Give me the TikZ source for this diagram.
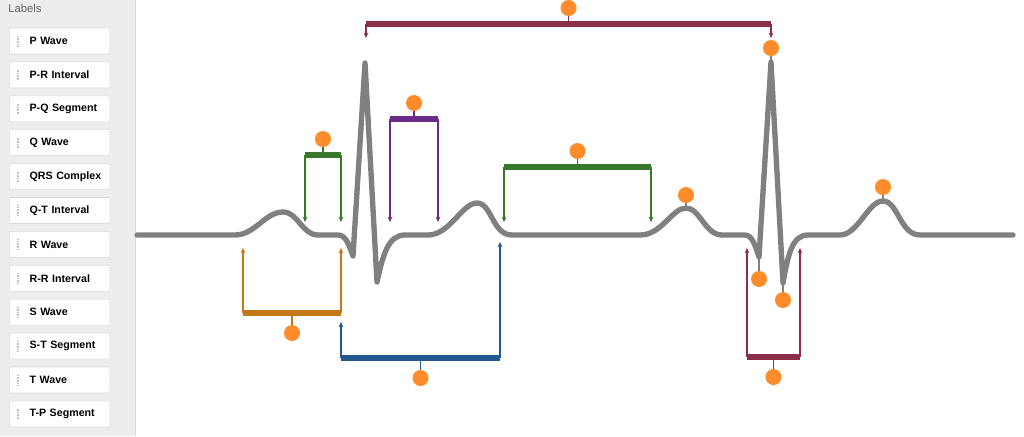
\documentclass[tikz,border=0pt]{standalone}
\usepackage{fontspec}
\setmainfont{Liberation Sans}
\usetikzlibrary{arrows.meta}
\definecolor{ecg}{HTML}{808080}
\definecolor{cgreen}{HTML}{38782A}
\definecolor{cpurple}{HTML}{6A2C8A}
\definecolor{cmaroon}{HTML}{8A2E4A}
\definecolor{corange}{HTML}{C47716}
\definecolor{cblue}{HTML}{23598E}
\definecolor{cdot}{HTML}{FF8C2A}
\tikzset{
  px/.style={x=0.75pt,y=-0.75pt},
  dot/.style={circle,fill=cdot,minimum size=12pt,inner sep=0pt},
  bar/.style={line width=4.5pt},
  leg/.style={line width=0.8pt,-{Stealth[length=4pt,width=3.5pt]}},
  stem/.style={line width=0.8pt},
  lab/.style={draw=black!15,fill=white,minimum width=75.5pt,minimum height=19.5pt,inner sep=0pt,rounded corners=1pt,font=\fontsize{8}{9}\selectfont\bfseries,text width=75pt,align=left}
}
\begin{document}
\begin{tikzpicture}[px]
\useasboundingbox (0,0) rectangle (1024,436);
\fill[black!7] (0,0) rectangle (135,436);
\draw[black!15] (135,0) -- (135,436);
\node[anchor=west,font=\fontsize{8.5}{9}\selectfont,text=black!60,inner sep=0pt] (title) at (8,8) {Labels};
\foreach \t [count=\i] in {P Wave,P-R Interval,P-Q Segment,Q Wave,QRS Complex,Q-T Interval,R Wave,R-R Interval,S Wave,S-T Segment,T Wave,T-P Segment}{
  \node[lab,anchor=west] (l\i) at (9,{41+(\i-1)*33.9}) {\hspace*{15pt}\t};
  \draw[black!25,line width=0.3pt,dash pattern=on 0.6pt off 0.6pt] ([xshift=6pt,yshift=-4pt]l\i.west) -- ([xshift=6pt,yshift=4pt]l\i.west);
  \draw[black!25,line width=0.3pt,dash pattern=on 0.6pt off 0.6pt] ([xshift=7.2pt,yshift=-4pt]l\i.west) -- ([xshift=7.2pt,yshift=4pt]l\i.west);
}
% ECG
\draw[ecg,line width=4pt,line join=round,line cap=round]
 (137,235) -- (235,235) .. controls (255,235) and (265,212) .. (283,212)
 .. controls (298,212) and (302,235) .. (318,235) -- (338,235)
 .. controls (346,235) and (349,245) .. (353,256) -- (365,63) -- (377,282)
 .. controls (383,255) and (388,235) .. (405,235) -- (428,235)
 .. controls (450,235) and (462,203) .. (477,203)
 .. controls (492,203) and (492,235) .. (512,235) -- (640,235)
 .. controls (662,235) and (672,208) .. (686,208)
 .. controls (700,208) and (705,235) .. (722,235) -- (745,235)
 .. controls (752,235) and (755,245) .. (759,257) -- (771,62) -- (783,283)
 .. controls (788,255) and (792,235) .. (808,235) -- (840,235)
 .. controls (858,235) and (868,201) .. (883,201)
 .. controls (898,201) and (900,235) .. (920,235) -- (1013,235);
% top brackets
\foreach \col/\xa/\xb/\yb/\ye/\nm in {cgreen/305/341/155/222/pw, cpurple/390/438/119/222/pq, cgreen/504/651/167/222/st, cmaroon/366/771/24/38/rr}{
  \coordinate (\nm a) at (\xa,\ye); \coordinate (\nm b) at (\xb,\ye);
  \coordinate (\nm m) at ({(\xa+\xb)/2},\yb);
  \node[dot] (\nm d) at ({(\xa+\xb)/2},\yb-16) {};
  \draw[\col,stem] (\nm d) -- (\nm m);
  \draw[\col,leg] (\xa,\yb) -- (\nm a);
  \draw[\col,leg] (\xb,\yb) -- (\nm b);
  \draw[\col,bar] (\xa,\yb) -- (\xb,\yb);
}
% bottom brackets
\foreach \col/\xa/\xb/\yb/\yea/\yeb/\nm in {corange/243/341/313/248/248/pr, cblue/341/500/358/322/242/qt, cmaroon/747/800/357/248/248/qrs}{
  \coordinate (\nm a) at (\xa,\yea); \coordinate (\nm b) at (\xb,\yeb);
  \coordinate (\nm m) at ({(\xa+\xb)/2},\yb);
  \node[dot] (\nm d) at ({(\xa+\xb)/2},\yb+20) {};
  \draw[\col,stem] (\nm d) -- (\nm m);
  \draw[\col,leg] (\xa,\yb) -- (\nm a);
  \draw[\col,leg] (\xb,\yb) -- (\nm b);
  \draw[\col,bar] (\xa,\yb) -- (\xb,\yb);
}
% point markers
\foreach \x/\yp/\yd/\nm in {686/208/195/t1, 771/62/48/r2, 759/257/279/q2, 783/283/300/s2, 883/201/187/t2}{
  \coordinate (\nm p) at (\x,\yp);
  \node[dot] (\nm) at (\x,\yd) {};
  \draw[ecg,stem] (\nm) -- (\nm p);
}
\end{tikzpicture}
\end{document}
